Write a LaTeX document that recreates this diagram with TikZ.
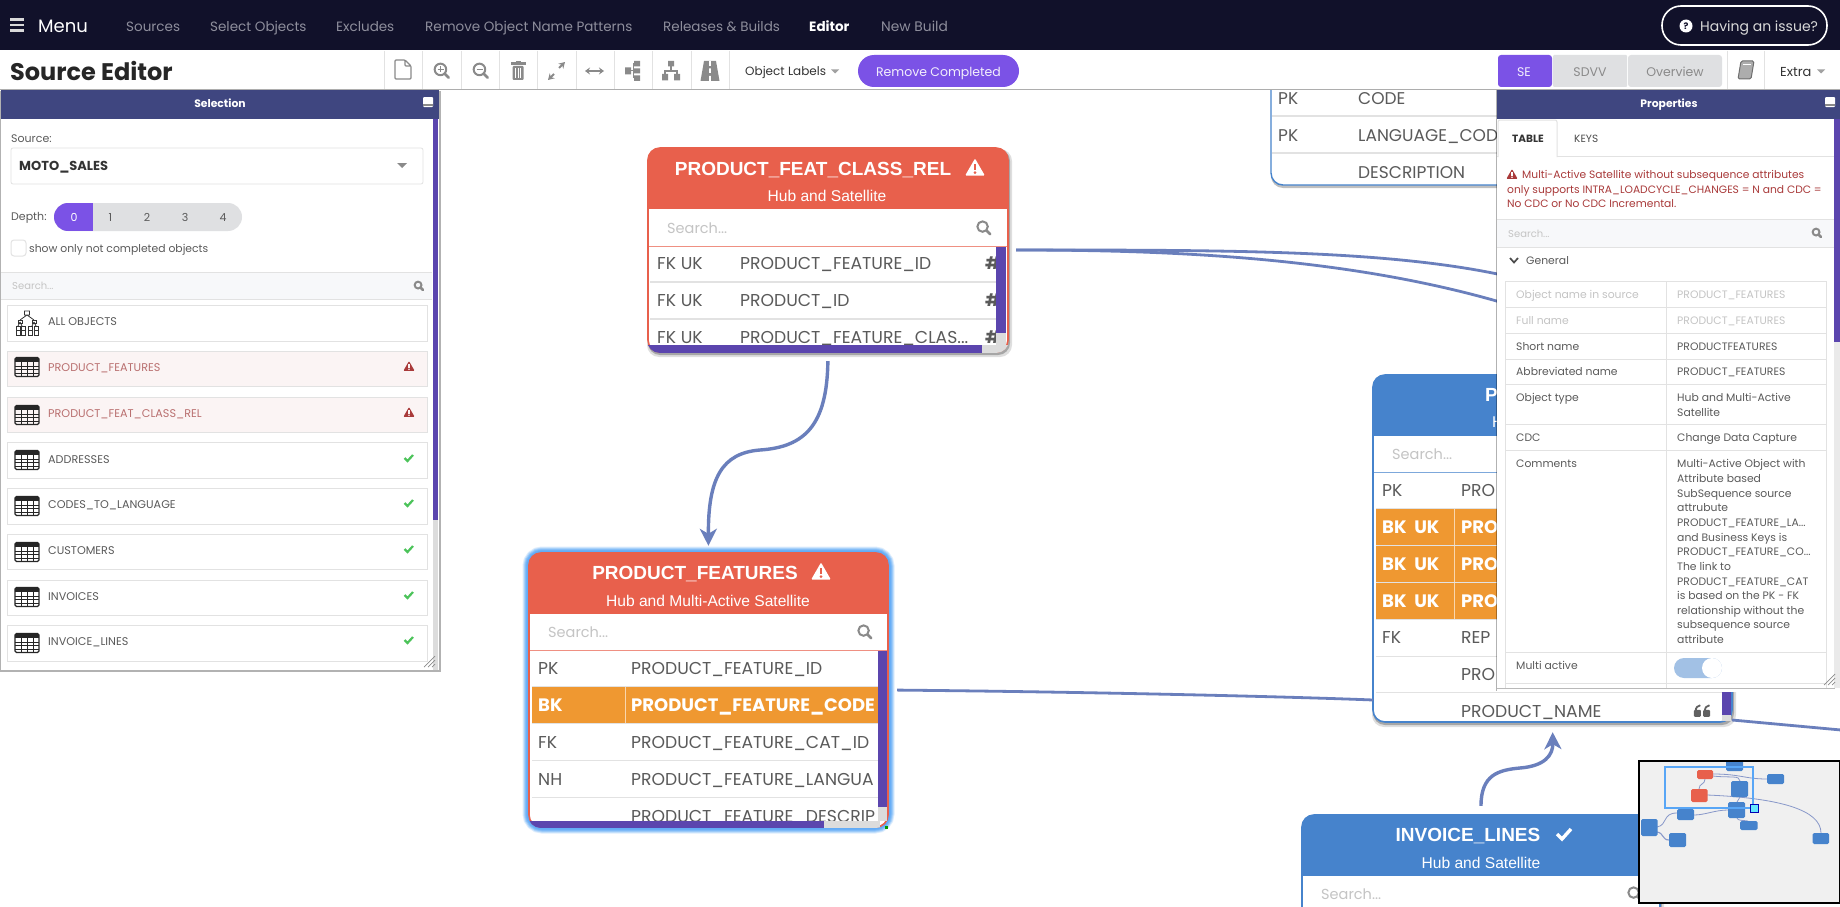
\documentclass[tikz,border=0pt]{standalone}
\usepackage{fontspec}
\setmainfont{Poppins}
\newfontfamily\arialf{Liberation Sans}
\usetikzlibrary{arrows.meta}
\definecolor{topbar}{HTML}{11112A}
\definecolor{navtxt}{HTML}{8E8E9C}
\definecolor{navy}{HTML}{3F4680}
\definecolor{violet}{HTML}{7B52E6}
\definecolor{scroll}{HTML}{5B45AE}
\definecolor{track}{HTML}{DCDCDC}
\definecolor{redh}{HTML}{E8604C}
\definecolor{blueh}{HTML}{4683CC}
\definecolor{orangeh}{HTML}{EF9831}
\definecolor{txt}{HTML}{5A5A5A}
\definecolor{soft}{HTML}{C4C4C4}
\definecolor{rule}{HTML}{E2E2E2}
\definecolor{iconc}{HTML}{8A8A8A}
\definecolor{wire}{HTML}{6A7FBC}
\definecolor{warnred}{HTML}{A93A3A}
\definecolor{pinktxt}{HTML}{B96F6F}
\definecolor{pinkbg}{HTML}{FBF4F4}
\definecolor{band}{HTML}{F7F8FA}
\definecolor{pillg}{HTML}{DFE0E2}
\definecolor{okgreen}{HTML}{4CC35A}
\definecolor{glow}{HTML}{58A6F6}
\definecolor{minibg}{HTML}{F0F0F0}
\definecolor{cyanh}{HTML}{66E8FF}
\newcounter{tn}
\newcommand{\txt}[6][west]{\stepcounter{tn}\node[anchor=#1,inner sep=0pt,text=#5,font=\fontsize{#4}{#4}\selectfont] (t\arabic{tn}) at (#2,#3+.7) {\vphantom{H}\smash{#6}};}
\newcommand{\warnicon}[5]{\begin{scope}[shift={(#1,#2)},scale=#3]
\fill[#4,rounded corners=1pt] (0,-8.5) -- (9.8,8.5) -- (-9.8,8.5) -- cycle;
\fill[#5] (-1.4,-3) rectangle (1.4,3); \fill[#5] (0,5.6) circle (1.5);
\end{scope}}
\newcommand{\glass}[4]{\begin{scope}[shift={(#1,#2)},scale=#3]
\draw[#4,line width=2pt] (-1.5,-1.5) circle (5.5);
\draw[#4,line width=2.6pt,line cap=round] (2.6,2.6) -- (6.5,6.5);
\end{scope}}
\newcommand{\okmark}[2]{\draw[okgreen,line width=2.2pt] (#1-4.5,#2) -- (#1-1.5,#2+3) -- (#1+4,#2-3);}
\newcommand{\gridicon}[2]{\begin{scope}[shift={(#1,#2)}]
\draw[black!85,line width=1.1pt,rounded corners=1.5pt] (-12,-9.5) rectangle (12,9.5);
\fill[black!85] (-12,-9.5) rectangle (12,-5);
\foreach \gy in {-1,2.5,6} {\draw[black!85,line width=.9pt] (-12,\gy) -- (12,\gy);}
\foreach \gx in {-6,0,6} {\draw[black!85,line width=.9pt] (\gx,-5) -- (\gx,9.5);}
\end{scope}}
\newcommand{\minimize}[2]{\fill[white,rounded corners=1pt] (#1-5,#2-5) rectangle (#1+5,#2+5);
\fill[iconc] (#1-5,#2+2) rectangle (#1+5,#2+4);}
\newcommand{\grip}[2]{\draw[iconc,line width=.7pt] (#1-8,#2+4) -- (#1+3,#2-7) (#1-4,#2+4) -- (#1+3,#2-3) (#1,#2+4) -- (#1+3,#2+1);}
\newcommand{\tblshadow}[4]{\fill[black,opacity=.13,rounded corners=12pt] (#1-1,#2+1) rectangle (#3+4,#4+5);
\fill[black,opacity=.25,rounded corners=12pt] (#1,#2+1) rectangle (#3+2,#4+3);}
\newcommand{\tblbody}[8]{%
\pgfmathsetmacro{\tw}{#4-#2}\pgfmathsetmacro{\th}{#5-#3}
\node[fill=white,inner sep=0pt,rounded corners=12pt,minimum width=\tw pt,minimum height=\th pt] (#1) at ({(#2+#4)/2},{(#3+#5)/2}) {};
\begin{scope}\clip[rounded corners=12pt] (#2,#3) rectangle (#4,#5);
\fill[#7] (#2,#3) rectangle (#4,#6);
\end{scope}
\draw[#8,line width=1.6pt,rounded corners=12pt] (#2,#3) rectangle (#4,#5);}
\newcommand{\tbl}[8]{\tblshadow{#2}{#3}{#4}{#5}\tblbody{#1}{#2}{#3}{#4}{#5}{#6}{#7}{#8}}
\tikzset{wireline/.style={wire,line width=2.8pt},
 arrowline/.style={wire,line width=3.4pt,-{Stealth[length=17pt,width=17pt,inset=5pt]}},
 rowrule/.style={rule,line width=1.2pt},
 tool/.style={iconc,line width=1.5pt},
 mini/.style={blueh,rounded corners=1.5pt},
 miniwire/.style={wire!80,line width=.8pt}}
\begin{document}
\begin{tikzpicture}[x=1pt,y=-1pt]
\useasboundingbox (0,0) rectangle (1840,907);
\clip (0,0) rectangle (1840,907);
\fill[white] (0,0) rectangle (1840,907);

%% upper right table
\begin{scope}
\fill[black,opacity=.25,rounded corners=12pt] (1271,60) rectangle (1600,188);
\fill[white,rounded corners=12pt] (1271,60) rectangle (1600,185);
\draw[blueh,line width=1.4pt,rounded corners=12pt] (1271,60) rectangle (1600,185);
\draw[rowrule] (1272,116) -- (1600,116) (1272,153) -- (1600,153);
\txt{1278}{98}{17}{txt}{PK}
\txt{1358}{98}{17}{txt}{CODE}
\txt{1278}{135}{17}{txt}{PK}
\txt{1358}{135}{17}{txt}{LANGUAGE\_COD}
\txt{1358}{172}{17}{txt}{DESCRIPTION}
\end{scope}

%% tables as nodes
\tbl{featrel}{648}{148}{1008}{352}{209}{redh}{redh}
\foreach \gw/\go in {13/.2,11/.3,9/.4,7/.5,5/.6} {\draw[glow,opacity=\go,line width=\gw pt,rounded corners=13pt] (529,553) rectangle (888,827);}
\tblbody{feat}{529}{553}{888}{827}{614}{redh}{redh}
\tbl{prod}{1373}{375}{1732}{722}{436}{blueh}{blueh}
\tbl{invoice}{1302}{815}{1660}{960}{876}{blueh}{blueh}

%% connectors
\coordinate (enda) at (1520,279);
\coordinate (endb) at (1520,308);
\coordinate (endc) at (1841,730);
\draw[wireline,shorten <=8pt] (featrel.east) .. controls (1240,250) and (1400,250) .. (enda);
\draw[wireline,shorten <=8pt] (featrel.east) .. controls (1180,250) and (1360,258) .. (endb);
\draw[arrowline,shorten <=9pt,shorten >=7pt] (featrel.south) .. controls (827,425) and (805,447) .. (760,450) .. controls (722,453) and (708,478) .. (feat.north);
\draw[arrowline,shorten <=9pt,shorten >=10pt] (invoice.north) .. controls (1481,775) and (1498,770) .. (1520,768) .. controls (1545,766) and (1553,755) .. (prod.south);
\draw[wireline,shorten <=9pt] (feat.east) .. controls (1100,692) and (1300,697) .. (1373,700);
\draw[wireline] (1732,720) -- (endc);

%% FEAT CLASS REL
\txt[center]{813}{168}{19}{white}{\arialf\bfseries PRODUCT\_FEAT\_CLASS\_REL}
\warnicon{975}{167}{1}{white}{redh}
\txt[center]{827}{195}{15.6}{white}{\arialf Hub and Satellite}
\draw[redh!70,line width=1pt] (649,246) -- (1007,246);
\txt{667}{228}{14.5}{soft}{Search...}
\glass{984}{228}{.95}{iconc}
\begin{scope}
\clip (650,247) rectangle (996,345);
\draw[rowrule] (650,282) -- (996,282) (650,319) -- (996,319);
\txt{657}{263}{17.2}{txt}{FK UK}\txt{740}{263}{17.2}{txt}{PRODUCT\_FEATURE\_ID}\txt{985}{263}{17.2}{txt}{\bfseries\#}
\txt{657}{300}{17.2}{txt}{FK UK}\txt{740}{300}{17.2}{txt}{PRODUCT\_ID}\txt{985}{300}{17.2}{txt}{\bfseries\#}
\txt{657}{337}{17.2}{txt}{FK UK}\txt{740}{337}{17.2}{txt}{PRODUCT\_FEATURE\_CLAS...}\txt{985}{337}{17.2}{txt}{\bfseries\#}
\end{scope}
\fill[scroll] (996,247) rectangle (1006,333);
\fill[track] (996,333) rectangle (1006,345);
\begin{scope}\clip[rounded corners=13pt] (647,147) rectangle (1009,353);
\fill[scroll] (647,345) rectangle (982,353);
\fill[track] (982,345) rectangle (1009,353);
\end{scope}

%% PRODUCT FEATURES
\txt[center]{695}{572}{19}{white}{\arialf\bfseries PRODUCT\_FEATURES}
\warnicon{821}{571}{1}{white}{redh}
\txt[center]{708}{600}{15.6}{white}{\arialf Hub and Multi-Active Satellite}
\fill[white] (531,614) rectangle (886,650);
\draw[redh!70,line width=1pt] (530,650) -- (887,650);
\txt{548}{632}{14.5}{soft}{Search...}
\glass{865}{632}{.95}{iconc}
\begin{scope}
\clip (531,651) rectangle (878,821);
\fill[orangeh] (532,687) rectangle (878,723);
\draw[white!60!orangeh,line width=.8pt] (625,687) -- (625,723);
\draw[rowrule] (532,686.5) -- (878,686.5) (532,723.5) -- (878,723.5) (532,760.5) -- (878,760.5) (532,797.5) -- (878,797.5);
\txt{538}{668}{17.2}{txt}{PK}\txt{631}{668}{17.2}{txt}{PRODUCT\_FEATURE\_ID}
\txt{538}{705}{18}{white}{\bfseries BK}\txt{631}{705}{18}{white}{\bfseries PRODUCT\_FEATURE\_CODE}
\txt{538}{742}{17.2}{txt}{FK}\txt{631}{742}{17.2}{txt}{PRODUCT\_FEATURE\_CAT\_ID}
\txt{538}{779}{17.2}{txt}{NH}\txt{631}{779}{17.2}{txt}{PRODUCT\_FEATURE\_LANGUA}
\txt{631}{816}{17.2}{txt}{PRODUCT\_FEATURE\_DESCRIP}
\end{scope}
\fill[scroll] (878,651) rectangle (887,807);
\fill[track] (878,807) rectangle (887,821);
\begin{scope}\clip[rounded corners=13pt] (528,552) rectangle (889,828);
\fill[scroll] (528,821) rectangle (824,828);
\fill[track] (824,821) rectangle (880,828);
\end{scope}
\fill[green!60!black] (884.5,825.5) rectangle (887.5,828.5);

%% PROD table
\txt{1485}{394}{19}{white}{\arialf\bfseries P}
\txt{1492}{421}{15.6}{white}{\arialf H}
\draw[blueh!70,line width=1pt] (1374,472) -- (1731,472);
\txt{1392}{454}{14.5}{soft}{Search...}
\fill[orangeh] (1376,509) rectangle (1500,545) (1376,546) rectangle (1500,582) (1376,583) rectangle (1500,619);
\draw[white!60!orangeh,line width=.8pt] (1454,509) -- (1454,619);
\draw[rowrule] (1376,508.5) -- (1500,508.5) (1376,545.5) -- (1500,545.5) (1376,582.5) -- (1500,582.5) (1376,619.5) -- (1500,619.5) (1376,656.5) -- (1500,656.5) (1376,692.5) -- (1722,692.5);
\txt{1382}{490}{17.2}{txt}{PK}\txt{1461}{490}{17.2}{txt}{PRO}
\foreach \ry in {527,564,601} {\txt{1382}{\ry}{18}{white}{\bfseries BK\ \ UK}\txt{1461}{\ry}{18}{white}{\bfseries PRO}}
\txt{1382}{637}{17.2}{txt}{FK}\txt{1461}{637}{17.2}{txt}{REP}
\txt{1461}{674}{17.2}{txt}{PRO}
\txt{1461}{711}{17.2}{txt}{PRODUCT\_NAME}
\begin{scope}[shift={(1702,711)},scale=1.15]
\fill[iconc!70!black,rounded corners=1pt] (-7,-1) rectangle (-1,5) (1,-1) rectangle (7,5);
\draw[iconc!70!black,line width=1.8pt] (-5.5,0) .. controls (-5.5,-3) and (-4,-4.5) .. (-1.5,-5) (2.5,0) .. controls (2.5,-3) and (4,-4.5) .. (6.5,-5);
\end{scope}
\fill[scroll] (1722,680) rectangle (1731,715);
\fill[track] (1722,715) rectangle (1731,721);

%% INVOICE
\txt[center]{1468}{834}{19}{white}{\arialf\bfseries INVOICE\_LINES}
\draw[white,line width=3.4pt] (1557,834) -- (1562,839) -- (1571,829);
\txt[center]{1481}{862}{15.6}{white}{\arialf Hub and Satellite}
\txt{1321}{894}{14.5}{soft}{Search...}
\glass{1635}{894}{.95}{iconc}

%% SELECTION PANEL
\fill[black,opacity=.3] (0,91) rectangle (441,672);
\fill[white] (1,90) rectangle (439,670);
\fill[navy] (1,90) rectangle (439,119);
\txt[center]{220}{103}{10.8}{white}{\bfseries Selection}
\minimize{428}{102}
\fill[scroll] (433,119) rectangle (438,520);
\fill[track] (433,520) rectangle (438,670);
\txt{11}{138}{11}{txt}{Source:}
\node[draw=rule,line width=.8pt,rounded corners=2pt,inner sep=0pt,minimum width=412pt,minimum height=36pt] (srcbox) at (217,166) {};
\txt{19}{165}{13}{black!80}{\bfseries MOTO\_SALES}
\fill[iconc] (397,163) -- (407,163) -- (402,168) -- cycle;
\txt{11}{216}{11}{txt}{Depth:}
\fill[pillg,rounded corners=14pt] (54,203) rectangle (242,231);
\begin{scope}\clip[rounded corners=14pt] (54,203) rectangle (242,231);
\fill[violet] (54,203) rectangle (93,231);\end{scope}
\txt[center]{74}{217}{11}{white}{0}
\txt[center]{110.5}{217}{11}{txt}{1}\txt[center]{147}{217}{11}{txt}{2}\txt[center]{185}{217}{11}{txt}{3}\txt[center]{223}{217}{11}{txt}{4}
\draw[rule,line width=1pt,rounded corners=3pt] (11,240) rectangle (26,256);
\txt{29}{248}{10.8}{txt}{show only not completed objects}
\fill[band] (1,272) rectangle (432,299);
\draw[rule,line width=.8pt] (1,272) -- (432,272) (1,299) -- (432,299);
\txt{12}{285}{10}{soft}{Search...}
\glass{419}{286}{.62}{iconc}
\foreach \iy/\ib/\ifill in {305/341/white,351/386/pinkbg,397/432/pinkbg,442/478/white,488/524/white,534/569/white,580/615/white,625/661/white}
  {\draw[rule,line width=1pt,fill=\ifill] (7,\iy) rectangle (427,\ib);}
% tree icon
\begin{scope}[shift={(27,323)}]
\draw[black!80,line width=.8pt] (-2.5,-12) rectangle (2.5,-8) (0,-8) -- (-7,-3) (0,-8) -- (7,-3) (-7,-1) -- (-9,3) (-7,-1) -- (-5,3) (7,-1) -- (9,3) (7,-1) -- (5,3);
\foreach \qx in {-9,-3.5,3.5,9} {\draw[black!80,line width=.8pt] (\qx-2,7) rectangle (\qx+2,12) (\qx-2,3) rectangle (\qx+2,7);}
\draw[black!80,line width=.8pt] (-9,-3) rectangle (-5,0) (5,-3) rectangle (9,0);
\end{scope}
\txt{48}{321}{11.2}{txt}{ALL OBJECTS}
\gridicon{27}{367}\txt{48}{367}{11.2}{pinktxt}{PRODUCT\_FEATURES}\warnicon{409}{366}{.58}{warnred}{pinkbg}
\gridicon{27}{415}\txt{48}{413}{11.2}{pinktxt}{PRODUCT\_FEAT\_CLASS\_REL}\warnicon{409}{412}{.58}{warnred}{pinkbg}
\gridicon{27}{460}\txt{48}{459}{11.2}{txt}{ADDRESSES}\okmark{409}{458}
\gridicon{27}{506}\txt{48}{504}{11.2}{txt}{CODES\_TO\_LANGUAGE}\okmark{409}{503}
\gridicon{27}{552}\txt{48}{550}{11.2}{txt}{CUSTOMERS}\okmark{409}{549}
\gridicon{27}{597}\txt{48}{596}{11.2}{txt}{INVOICES}\okmark{409}{595}
\gridicon{27}{643}\txt{48}{641}{11.2}{txt}{INVOICE\_LINES}\okmark{409}{640}
\grip{432}{663}

%% PROPERTIES PANEL
\fill[black,opacity=.3] (1496,90) rectangle (1840,691);
\fill[white] (1497,90) rectangle (1840,688);
\fill[navy] (1497,90) rectangle (1840,119);
\txt[center]{1669}{103}{10.8}{white}{\bfseries Properties}
\minimize{1830}{102}
\fill[scroll] (1834,119) rectangle (1840,342);
\fill[track!60] (1834,342) rectangle (1840,688);
\draw[rule,line width=1pt] (1497,156) -- (1834,156);
\fill[white] (1498,120) rectangle (1557,157);
\draw[rule,line width=1pt,rounded corners=2pt] (1498,157) -- (1498,120) -- (1557,120) -- (1557,157);
\txt{1512}{138}{10.5}{black!80}{\bfseries TABLE}
\txt{1574}{138}{10.5}{black!70}{KEYS}
\warnicon{1512}{174}{.58}{warnred}{white}
\txt{1522}{174}{10.7}{warnred}{Multi-Active Satellite without subsequence attributes}
\txt{1507}{189}{10.7}{warnred}{only supports INTRA\_LOADCYCLE\_CHANGES = N and CDC =}
\txt{1507}{203}{10.7}{warnred}{No CDC or No CDC Incremental.}
\fill[band] (1497,219) rectangle (1834,247);
\draw[rule,line width=.8pt] (1497,219) -- (1834,219) (1497,247) -- (1834,247);
\txt{1508}{233}{10}{soft}{Search...}
\glass{1817}{233}{.62}{iconc}
\draw[black!70,line width=1.7pt] (1510,258) -- (1514,262.5) -- (1518,258);
\txt{1526}{260}{10.8}{txt}{General}
\draw[rule,line width=1pt] (1505,281) rectangle (1826,690);
\draw[rule,line width=1pt] (1666,281) -- (1666,688);
\foreach \ly in {307,333,359,384,424,450,652,683} {\draw[rule,line width=1pt] (1505,\ly) -- (1826,\ly);}
\txt{1516}{294}{10.8}{soft}{Object name in source}\txt{1677}{294}{10.8}{soft}{PRODUCT\_FEATURES}
\txt{1516}{320}{10.8}{soft}{Full name}\txt{1677}{320}{10.8}{soft}{PRODUCT\_FEATURES}
\txt{1516}{346}{10.8}{txt}{Short name}\txt{1677}{346}{10.8}{txt}{PRODUCTFEATURES}
\txt{1516}{371}{10.8}{txt}{Abbreviated name}\txt{1677}{371}{10.8}{txt}{PRODUCT\_FEATURES}
\txt{1516}{397}{10.8}{txt}{Object type}\txt{1677}{397}{10.8}{txt}{Hub and Multi-Active}\txt{1677}{412}{10.8}{txt}{Satellite}
\txt{1516}{437}{10.8}{txt}{CDC}\txt{1677}{437}{10.8}{txt}{Change Data Capture}
\txt{1516}{463}{10.8}{txt}{Comments}
\txt{1677}{463}{10.8}{txt}{Multi-Active Object with}
\txt{1677}{478}{10.8}{txt}{Attribute based}
\txt{1677}{493}{10.8}{txt}{SubSequence source}
\txt{1677}{507}{10.8}{txt}{attrubute}
\txt{1677}{522}{10.8}{txt}{PRODUCT\_FEATURE\_LA...}
\txt{1677}{537}{10.8}{txt}{and Business Keys is}
\txt{1677}{551}{10.8}{txt}{PRODUCT\_FEATURE\_CO...}
\txt{1677}{566}{10.8}{txt}{The link to}
\txt{1677}{581}{10.8}{txt}{PRODUCT\_FEATURE\_CAT}
\txt{1677}{595}{10.8}{txt}{is based on the PK - FK}
\txt{1677}{610}{10.8}{txt}{relationship without the}
\txt{1677}{624}{10.8}{txt}{subsequence source}
\txt{1677}{639}{10.8}{txt}{attribute}
\txt{1516}{665}{10.8}{txt}{Multi active}
\fill[blueh!50,rounded corners=10pt] (1674,658) rectangle (1722,678);
\fill[white] (1712,668) circle (10);
\fill[white] (1497,688) rectangle (1840,692);
\draw[iconc!60,line width=1.2pt] (1497,688.5) -- (1835,688.5);
\grip{1832}{681}

%% TOP BAR
\fill[topbar] (0,0) rectangle (1840,50);
\fill[white] (0,50) rectangle (1840,89);
\fill[iconc!70] (0,89) rectangle (1840,90);
\foreach \by in {19.5,25,30.5} {\fill[white!85!black] (10,\by-1.2) rectangle (24,\by+1.2);}
\txt{38}{26}{18}{white}{Menu}
\txt{126}{26}{13.5}{navtxt}{Sources}
\txt{210}{26}{13.5}{navtxt}{Select Objects}
\txt{336}{26}{13.5}{navtxt}{Excludes}
\txt{425}{26}{13.5}{navtxt}{Remove Object Name Patterns}
\txt{663}{26}{13.5}{navtxt}{Releases \& Builds}
\txt{809}{26}{13.5}{white}{\bfseries Editor}
\txt{881}{26}{13.8}{navtxt}{New Build}
\node[draw=white,line width=1.6pt,rounded corners=19pt,inner sep=0pt,minimum width=165pt,minimum height=39pt,fill=topbar] (issue) at (1744.5,25.5) {};
\fill[white] (1686,26) circle (6.5);
\txt[center]{1686}{26}{9}{topbar}{\bfseries ?}
\txt{1700}{26}{14}{white!85!black}{Having an issue?}
\txt{10}{71}{24}{black!85}{\bfseries Source Editor}
\foreach \dx in {384,422.5,461,499,537.5,576,614,652.6,691,729,1727,1764} {\draw[rule,line width=1pt] (\dx,51) -- (\dx,89);}
% toolbar icons
\draw[tool,line width=1.2pt,rounded corners=1pt] (395,60) -- (405,60) -- (411,66) -- (411,79) -- (395,79) -- cycle (405,60) -- (405,66) -- (411,66);
\glass{442}{71}{1.05}{iconc}\draw[iconc,line width=1.3pt] (437.5,69.4) -- (443.5,69.4) (440.5,66.4) -- (440.5,72.4);
\glass{481}{71}{1.05}{iconc}\draw[iconc,line width=1.3pt] (476.5,69.4) -- (482.5,69.4);
\fill[iconc,rounded corners=1pt] (512.5,66) rectangle (523.5,80);
\fill[iconc] (510.5,62.5) rectangle (525.5,65);\fill[iconc] (515.5,61) rectangle (520.5,63);
\draw[white,line width=1pt] (515.5,68) -- (515.5,78) (518,68) -- (518,78) (520.5,68) -- (520.5,78);
\draw[iconc,line width=2pt,-{Stealth[length=6pt,width=7pt]}] (554,74) -- (548,80);
\draw[iconc,line width=2pt,-{Stealth[length=6pt,width=7pt]}] (559,68) -- (565,62);
\draw[iconc,line width=2pt,{Stealth[length=5pt,width=7pt]}-{Stealth[length=5pt,width=7pt]}] (585,71) -- (604,71);
\fill[iconc] (625,67.5) rectangle (631,74.5) (634,61) rectangle (640,66.5) (634,68.5) rectangle (640,73.5) (634,75.5) rectangle (640,81);
\draw[iconc,line width=1pt] (631,71) -- (634,71) (633,63.5) -- (633,78);
\fill[iconc] (668,61) rectangle (674,66.5) (662,74) rectangle (668,80.5) (674,74) rectangle (680,80.5);
\draw[iconc,line width=1.2pt] (671,66) -- (671,71) (665,74) -- (665,71) -- (677,71) -- (677,74);
\fill[iconc] (700.5,81) -- (704,61) -- (716,61) -- (719.5,81) -- cycle;
\fill[white] (709.2,61) rectangle (710.8,66) (709.2,68.5) rectangle (710.8,73) (709.2,76) rectangle (710.8,81);
\txt{745}{71}{12}{black!80}{Object Labels}
\fill[iconc!80] (831,69.5) -- (839,69.5) -- (835,73.5) -- cycle;
\node[fill=violet,rounded corners=16pt,inner sep=0pt,minimum width=161pt,minimum height=32pt] (remove) at (938.5,71) {};
\txt[center]{938.5}{71}{12.5}{white!90!violet}{Remove Completed}
\fill[violet,rounded corners=3pt] (1498,55) rectangle (1552,87);
\fill[pillg,rounded corners=1pt] (1553,55) rectangle (1627,87);
\fill[pillg,rounded corners=3pt] (1628,55) rectangle (1722,87);
\txt[center]{1524}{71}{12.5}{white!90!violet}{SE}
\txt[center]{1590}{71}{12.5}{iconc}{SDVV}
\txt[center]{1675}{71}{12.5}{iconc}{Overview}
\draw[iconc!80!black,fill=iconc!70,line width=1pt,rounded corners=1.5pt] (1741,61) -- (1754,61) -- (1751,79) -- (1738,79) -- cycle;
\draw[white,line width=1pt] (1743,65) -- (1751,65);
\txt{1780}{71}{13}{black!80}{Extra}
\fill[iconc!80] (1817,69.5) -- (1825,69.5) -- (1821,73.5) -- cycle;

%% MINIMAP
\draw[black,fill=minibg,line width=2pt] (1639,761) rectangle (1839.5,903);
\begin{scope}
\clip (1640,762) rectangle (1838.5,902);
\draw[miniwire] (1713,774) .. controls (1740,774) and (1745,779) .. (1767,779);
\draw[miniwire] (1705,779) .. controls (1705,785) and (1699,783) .. (1699,789);
\draw[miniwire] (1713,776) .. controls (1730,778) and (1740,775) .. (1740,781);
\draw[miniwire] (1707,795) .. controls (1780,798) and (1821,810) .. (1821,833);
\draw[miniwire] (1740,797) -- (1737,802);
\draw[miniwire] (1737,818) .. controls (1738,821) and (1742,820) .. (1748,821);
\draw[miniwire] (1694,815) .. controls (1705,815) and (1715,810) .. (1728,810);
\draw[miniwire] (1657,827) .. controls (1668,825) and (1662,813) .. (1677,813);
\draw[miniwire,line width=1.1pt] (1657,832) .. controls (1664,833) and (1662,840) .. (1669,840);
\fill[mini] (1726,759) rectangle (1743,771);
\fill[mini] (1767,774) rectangle (1784,784);
\fill[mini] (1731,781) rectangle (1748,797);
\fill[mini] (1728,802) rectangle (1745,818);
\fill[mini] (1677,809) rectangle (1694,820);
\fill[mini] (1740,821) rectangle (1757.5,830);
\fill[mini] (1641,819) rectangle (1657.5,836);
\fill[mini] (1669,833) rectangle (1686,847);
\fill[mini] (1812.5,833) rectangle (1829,844);
\fill[redh,rounded corners=1.5pt] (1697,770) rectangle (1713,779);
\fill[redh,rounded corners=1.5pt] (1691,789) rectangle (1707.5,802);
\draw[glow,line width=2.6pt] (1665,767) rectangle (1753,808);
\draw[blue!70!black,fill=cyanh,line width=1pt] (1750,804) rectangle (1758,812);
\end{scope}
\end{tikzpicture}
\end{document}
